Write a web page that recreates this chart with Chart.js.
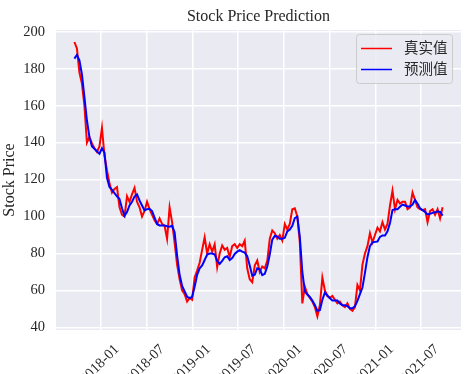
<!DOCTYPE html>
<html>
<head>
<meta charset="utf-8">
<script src="https://cdn.jsdelivr.net/npm/chart.js@4.4.0/dist/chart.umd.min.js"></script>
<style>
  html, body { margin: 0; padding: 0; background: #fff; }
</style>
</head>
<body>
<canvas id="chart" width="474" height="374"></canvas>
<script>
// one sample every 10 days starting from startDate
const startDate = '2017-09-17';
const stepDays = 10;

const realPrice = [
  194.5, 191, 178, 172, 160, 140, 143, 139.6, 137, 135,
  138, 148, 133, 125, 118, 113, 115, 116, 105, 101,
  100, 111, 108, 112, 115.5, 108, 105, 100, 103, 108,
  104, 101, 98, 96, 99, 96, 95, 88, 105, 97,
  86, 74, 66, 60, 58, 54, 56, 55, 67, 70.8,
  75, 82, 88.8, 80, 85, 81, 85, 72.6, 80, 84.4,
  82, 83, 78, 84, 85, 83, 85, 84, 87, 72,
  66, 64.5, 73.5, 76.2, 70, 73, 72, 76, 88, 92.5,
  91, 88, 90, 87, 96, 93, 96, 104, 104.5, 100,
  86, 53, 62, 58, 56, 54, 51, 46, 52, 67,
  60, 57, 56, 57, 55, 53, 54, 52, 51, 53,
  50, 49, 51, 63, 60, 74, 80, 84, 91, 86,
  90, 94, 92, 97, 93, 96, 106, 114, 104, 109,
  107, 108, 108, 104, 105, 113, 109, 105, 104, 103.5,
  104, 97, 103, 104, 101, 104, 99, 105
];

const predPrice = [
  185.5, 187.5, 184.6, 177, 164.7, 152, 143, 138, 136.7, 135.3,
  134, 137, 134.5, 121, 116, 114.4, 112.7, 111, 109.5, 104.5,
  100.5, 102.5, 106, 108, 110.8, 112, 108.7, 106, 103.3, 104,
  104.2, 103, 99.5, 96, 95.2, 95.2, 95.2, 94.8, 94.5, 95,
  91.5, 79, 68.5, 62.5, 59.5, 56.6, 55.8, 56.5, 62, 68.5,
  72, 73.5, 76.5, 79.5, 80, 80, 79.5, 76, 74.4, 76,
  78, 78.5, 76.5, 77.5, 79.8, 81, 81.8, 81, 80.5, 78.5,
  73.5, 68, 68.5, 72, 71.5, 68.3, 69, 73, 79.5, 87.5,
  89.5, 89.2, 88, 88, 88.5, 92, 93, 95, 99.2, 100,
  89, 70, 59.5, 57.8, 56.5, 54.5, 52.2, 49, 49.3, 55,
  58.8, 57.3, 55.8, 54.6, 54.6, 54.6, 53, 52, 52, 51.5,
  50.4, 50.4, 51.5, 54.4, 58, 61.6, 69.5, 78, 84, 86,
  86.3, 86.5, 89, 89.8, 89.8, 92, 96.5, 103.5, 104, 104,
  105.3, 106.5, 106, 105.5, 105.5, 106.5, 109, 107, 104.5, 103.5,
  102.5, 101.2, 101.5, 102, 102.3, 102.8, 102.5, 100.5
];

const xTickLabels = ['2018-01', '2018-07', '2019-01', '2019-07', '2020-01', '2020-07', '2021-01', '2021-07'];
const yTickValues = [40, 60, 80, 100, 120, 140, 160, 180, 200];

const DAY = 86400000;
const t0 = Date.parse(startDate);
const dates = realPrice.map((_, i) => t0 + i * stepDays * DAY);
const xTicks = xTickLabels.map(s => Date.parse(s + '-01'));

// matplotlib-like 5% margins on the x range
const span = dates[dates.length - 1] - dates[0];
const xMin = dates[0] - span * 0.05;
const xMax = dates[dates.length - 1] + span * 0.05;

const serif = "'Liberation Serif', 'Times New Roman', serif";
const cjk = "'Liberation Serif', 'Noto Sans CJK SC', sans-serif";
const textColor = '#262626';

// legend drawn inside the plot, top right, like matplotlib
const plotLegend = {
  id: 'plotLegend',
  afterDraw(chart) {
    const { ctx, chartArea } = chart;
    const w = 96, h = 49;
    const x0 = chartArea.right - 9 - w;
    const y0 = chartArea.top + 4;
    ctx.save();
    ctx.beginPath();
    ctx.roundRect(x0 + 0.5, y0 + 0.5, w, h, 3);
    ctx.fillStyle = 'rgba(234,234,242,0.8)';
    ctx.fill();
    ctx.strokeStyle = '#cccccc';
    ctx.lineWidth = 1;
    ctx.stroke();
    ctx.font = '14.5px ' + cjk;
    ctx.textBaseline = 'middle';
    ctx.fillStyle = textColor;
    chart.data.datasets.forEach((ds, i) => {
      const y = y0 + 14.5 + i * 21;
      ctx.beginPath();
      ctx.moveTo(x0 + 5, y);
      ctx.lineTo(x0 + 36, y);
      ctx.strokeStyle = ds.borderColor;
      ctx.lineWidth = 1.5;
      ctx.stroke();
      ctx.fillText(ds.label, x0 + 48, y + 1);
    });
    ctx.restore();
  }
};

// axes background
const plotBg = {
  id: 'plotBg',
  beforeDraw(chart) {
    const { ctx, chartArea: a } = chart;
    ctx.save();
    ctx.fillStyle = '#eaeaf2';
    ctx.fillRect(a.left, a.top, a.right - a.left, a.bottom - a.top);
    ctx.restore();
  }
};

new Chart(document.getElementById('chart'), {
  type: 'line',
  data: {
    datasets: [
      {
        label: '真实值',
        data: realPrice.map((v, i) => ({ x: dates[i], y: v })),
        borderColor: '#ff0000',
        borderWidth: 2,
        pointRadius: 0,
        tension: 0,
        order: 2
      },
      {
        label: '预测值',
        data: predPrice.map((v, i) => ({ x: dates[i], y: v })),
        borderColor: '#0000ff',
        borderWidth: 2,
        pointRadius: 0,
        tension: 0,
        order: 1
      }
    ]
  },
  options: {
    responsive: false,
    animation: false,
    devicePixelRatio: 1,
    layout: { padding: { top: 0, right: 13, bottom: 0, left: 0 }, autoPadding: false },
    plugins: {
      legend: { display: false },
      tooltip: { enabled: false },
      title: {
        display: true,
        text: 'Stock Price Prediction',
        fullSize: false,
        color: textColor,
        font: { family: serif, size: 16, weight: 'normal' },
        padding: { top: 7, bottom: 3.8 }
      }
    },
    scales: {
      x: {
        type: 'linear',
        min: xMin,
        max: xMax,
        afterBuildTicks: (scale) => { scale.ticks = xTicks.map(v => ({ value: v })); },
        afterFit: (scale) => { scale.height = 44; },
        grid: { color: '#ffffff', lineWidth: 1.5, drawTicks: false },
        border: { display: false },
        ticks: {
          autoSkip: false,
          minRotation: 45,
          maxRotation: 45,
          labelOffset: 16,
          padding: 11,
          color: textColor,
          font: { family: serif, size: 14.5 },
          callback: (v) => new Date(v).toISOString().slice(0, 7)
        }
      },
      y: {
        min: 38.6,
        max: 201,
        afterBuildTicks: (scale) => { scale.ticks = yTickValues.map(v => ({ value: v })); },
        afterFit: (scale) => { scale.width = 56; },
        grid: { color: '#ffffff', lineWidth: 1.5, drawTicks: false },
        border: { display: false },
        title: {
          display: true,
          text: 'Stock Price',
          color: textColor,
          font: { family: serif, size: 16 },
          padding: { top: 0, bottom: 0 }
        },
        ticks: {
          padding: 11,
          color: textColor,
          font: { family: serif, size: 14.5 }
        }
      }
    }
  },
  plugins: [plotBg, plotLegend]
});
</script>
</body>
</html>
